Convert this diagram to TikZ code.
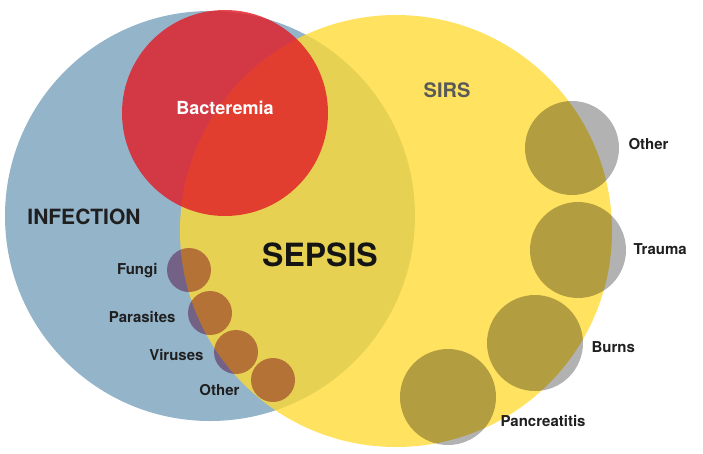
\documentclass[tikz,border=0pt]{standalone}
\usepackage{fontspec}
\setmainfont{TeX Gyre Heros}
\begin{document}
\begin{tikzpicture}[x=1pt,y=-1pt,
  lbl/.style={font=\bfseries\fontsize{15}{18}\selectfont, text=black!88},
  gray/.style={fill={rgb,255:red,178;green,178;blue,178}},
  small/.style={fill={rgb,255:red,200;green,140;blue,170}}]
\useasboundingbox (0,0) rectangle (703,453);
\fill[fill={rgb,255:red,148;green,180;blue,202}] (210,216) circle (205);
\fill[fill={rgb,255:red,255;green,218;blue,50}, fill opacity=0.78] (396,231) circle (216);
\fill[fill={rgb,255:red,226;green,30;blue,40}, fill opacity=0.82] (225,113) circle (103);
\begin{scope}[blend mode=multiply]
\fill[small] (189,270) circle (22);
\fill[small] (210,313) circle (22);
\fill[small] (236,352) circle (22);
\fill[small] (273,380) circle (22);
\fill[gray] (572,148) circle (47);
\fill[gray] (578,250) circle (48);
\fill[gray] (535,343) circle (48);
\fill[gray] (448,397) circle (48);
\end{scope}
\node[font=\bfseries\fontsize{18}{22}\selectfont, text=white] (bact) at (225,108) {Bacteremia};
\node[font=\bfseries\fontsize{21}{25}\selectfont, text=black!88] (inf) at (84,217) {INFECTION};
\node[font=\bfseries\fontsize{32}{36}\selectfont, text=black!92] (sep) at (320,255) {SEPSIS};
\node[font=\bfseries\fontsize{20}{24}\selectfont, text=black!65] (sirs) at (447,90) {SIRS};
\node[lbl, anchor=east] (f) at (161,271) {Fungi};
\node[lbl, anchor=east] (p) at (179,317) {Parasites};
\node[lbl, anchor=east] (v) at (207,355) {Viruses};
\node[lbl, anchor=east] (o) at (243,390) {Other};
\node[lbl, anchor=west] (o2) at (625,144) {Other};
\node[lbl, anchor=west] (t) at (630,249) {Trauma};
\node[lbl, anchor=west] (b) at (588,347) {Burns};
\node[lbl, anchor=west] (pc) at (497,421) {Pancreatitis};
\end{tikzpicture}
\end{document}
